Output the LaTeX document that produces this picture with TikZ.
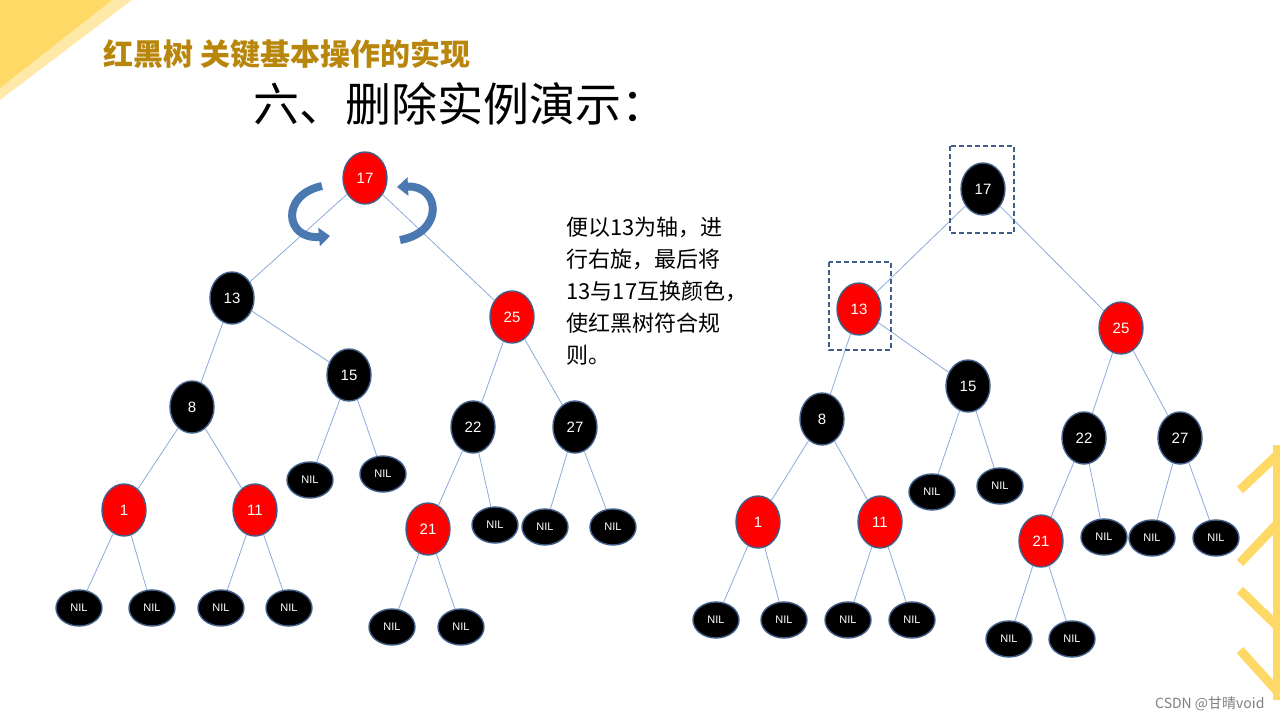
\documentclass[tikz,border=0pt]{standalone}
\usepackage{fontspec}
\setmainfont{Liberation Sans}
\newfontfamily\cjk{Noto Sans CJK SC}
\usetikzlibrary{shapes.geometric,arrows.meta}
\definecolor{gold}{HTML}{B8860B}
\definecolor{ylw}{HTML}{FFD966}
\definecolor{ylwl}{HTML}{FFE9A8}
\definecolor{bord}{HTML}{3F5F8A}
\definecolor{edg}{HTML}{8EAADB}
\definecolor{arr}{HTML}{4A78B0}
\tikzset{
 rb/.style={ellipse,draw=bord,line width=1.4pt,minimum width=44pt,minimum height=52pt,inner sep=0pt,font=\fontsize{15}{15}\selectfont},
 rn/.style={rb,fill=red,text=white},
 bn/.style={rb,fill=black,text=white},
 nil/.style={ellipse,draw=bord,line width=1.4pt,fill=black,text=white,minimum width=46pt,minimum height=36pt,inner sep=0pt,font=\fontsize{11}{11}\selectfont},
 ed/.style={draw=edg,line width=0.8pt},
 box/.style={draw=bord,dash pattern=on 5pt off 3pt,line width=1.4pt},
 stripe/.style={draw=ylw,line width=9pt},
 rot/.style={draw=arr,line width=8pt,-{Triangle[width=18pt,length=11pt]}}
}
\begin{document}
\begin{tikzpicture}[x=1pt,y=-1pt]
\useasboundingbox (0,0) rectangle (1280,720);
\fill[white] (0,0) rectangle (1280,720);
% decorations
\fill[ylwl] (0,0) -- (132,0) -- (0,100) -- cycle;
\fill[ylw] (0,0) -- (112,0) -- (0,88) -- cycle;
\fill[ylw] (1273,445) rectangle (1280,700);
\draw[stripe] (1240,490) -- (1276,456);
\draw[stripe] (1240,563) -- (1276,525);
\draw[stripe] (1240,590) -- (1276,625);
\draw[stripe] (1240,650) -- (1276,690);
% titles
\node[anchor=west,text=gold,font=\cjk\bfseries\fontsize{30}{30}\selectfont] (t1) at (100,54) {红黑树 关键基本操作的实现};
\node[anchor=west,font=\cjk\fontsize{46}{46}\selectfont] (t2) at (250,104) {六、删除实例演示：};
\node[anchor=north west,align=left,font=\cjk\fontsize{22}{32}\selectfont] (txt) at (563,213) {便以13为轴，进\\行右旋，最后将\\13与17互换颜色，\\使红黑树符合规\\则。};
\node[anchor=south east,text=gray,font=\cjk\fontsize{14}{14}\selectfont] (wm) at (1268,714) {CSDN @甘晴void};
% left tree
\node[rn] (a17) at (365,178) {17};
\node[bn] (a13) at (232,298) {13};
\node[rn] (a25) at (512,317) {25};
\node[bn] (a8) at (192,407) {8};
\node[bn] (a15) at (349,375) {15};
\node[bn] (a22) at (473,427) {22};
\node[bn] (a27) at (575,427) {27};
\node[rn] (a1) at (124,510) {1};
\node[rn] (a11) at (255,510) {11};
\node[nil] (an1) at (310,480) {NIL};
\node[nil] (an2) at (383,474) {NIL};
\node[rn] (a21) at (428,529) {21};
\node[nil] (an3) at (495,525) {NIL};
\node[nil] (an4) at (545,527) {NIL};
\node[nil] (an5) at (613,527) {NIL};
\node[nil] (an6) at (79,608) {NIL};
\node[nil] (an7) at (152,608) {NIL};
\node[nil] (an8) at (221,608) {NIL};
\node[nil] (an9) at (289,608) {NIL};
\node[nil] (an10) at (392,627) {NIL};
\node[nil] (an11) at (461,627) {NIL};
\foreach \p/\c in {a17/a13,a17/a25,a13/a8,a13/a15,a8/a1,a8/a11,a15/an1,a15/an2,a25/a22,a25/a27,a22/a21,a22/an3,a27/an4,a27/an5,a1/an6,a1/an7,a11/an8,a11/an9,a21/an10,a21/an11}
  \draw[ed] (\p) -- (\c);
% rotation arrows
\coordinate (r1s) at (322,186);
\coordinate (r1e) at (330,236);
\draw[rot] (r1s) .. controls (280,195) and (285,240) .. (r1e);
\coordinate (r2s) at (400,240);
\coordinate (r2e) at (397,187);
\draw[rot] (r2s) .. controls (445,232) and (440,185) .. (r2e);
% right tree
\node[bn] (b17) at (983,189) {17};
\node[rn] (b13) at (859,309) {13};
\node[rn] (b25) at (1121,328) {25};
\node[bn] (b8) at (822,419) {8};
\node[bn] (b15) at (968,386) {15};
\node[bn] (b22) at (1084,438) {22};
\node[bn] (b27) at (1180,438) {27};
\node[rn] (b1) at (758,522) {1};
\node[rn] (b11) at (880,522) {11};
\node[nil] (bn1) at (932,492) {NIL};
\node[nil] (bn2) at (1000,486) {NIL};
\node[rn] (b21) at (1041,541) {21};
\node[nil] (bn3) at (1104,537) {NIL};
\node[nil] (bn4) at (1152,538) {NIL};
\node[nil] (bn5) at (1216,538) {NIL};
\node[nil] (bn6) at (716,620) {NIL};
\node[nil] (bn7) at (784,620) {NIL};
\node[nil] (bn8) at (848,620) {NIL};
\node[nil] (bn9) at (912,620) {NIL};
\node[nil] (bn10) at (1009,639) {NIL};
\node[nil] (bn11) at (1072,639) {NIL};
\foreach \p/\c in {b17/b13,b17/b25,b13/b8,b13/b15,b8/b1,b8/b11,b15/bn1,b15/bn2,b25/b22,b25/b27,b22/b21,b22/bn3,b27/bn4,b27/bn5,b1/bn6,b1/bn7,b11/bn8,b11/bn9,b21/bn10,b21/bn11}
  \draw[ed] (\p) -- (\c);
\draw[box] (950,146) rectangle (1014,233);
\draw[box] (829,262) rectangle (891,350);
\end{tikzpicture}
\end{document}
